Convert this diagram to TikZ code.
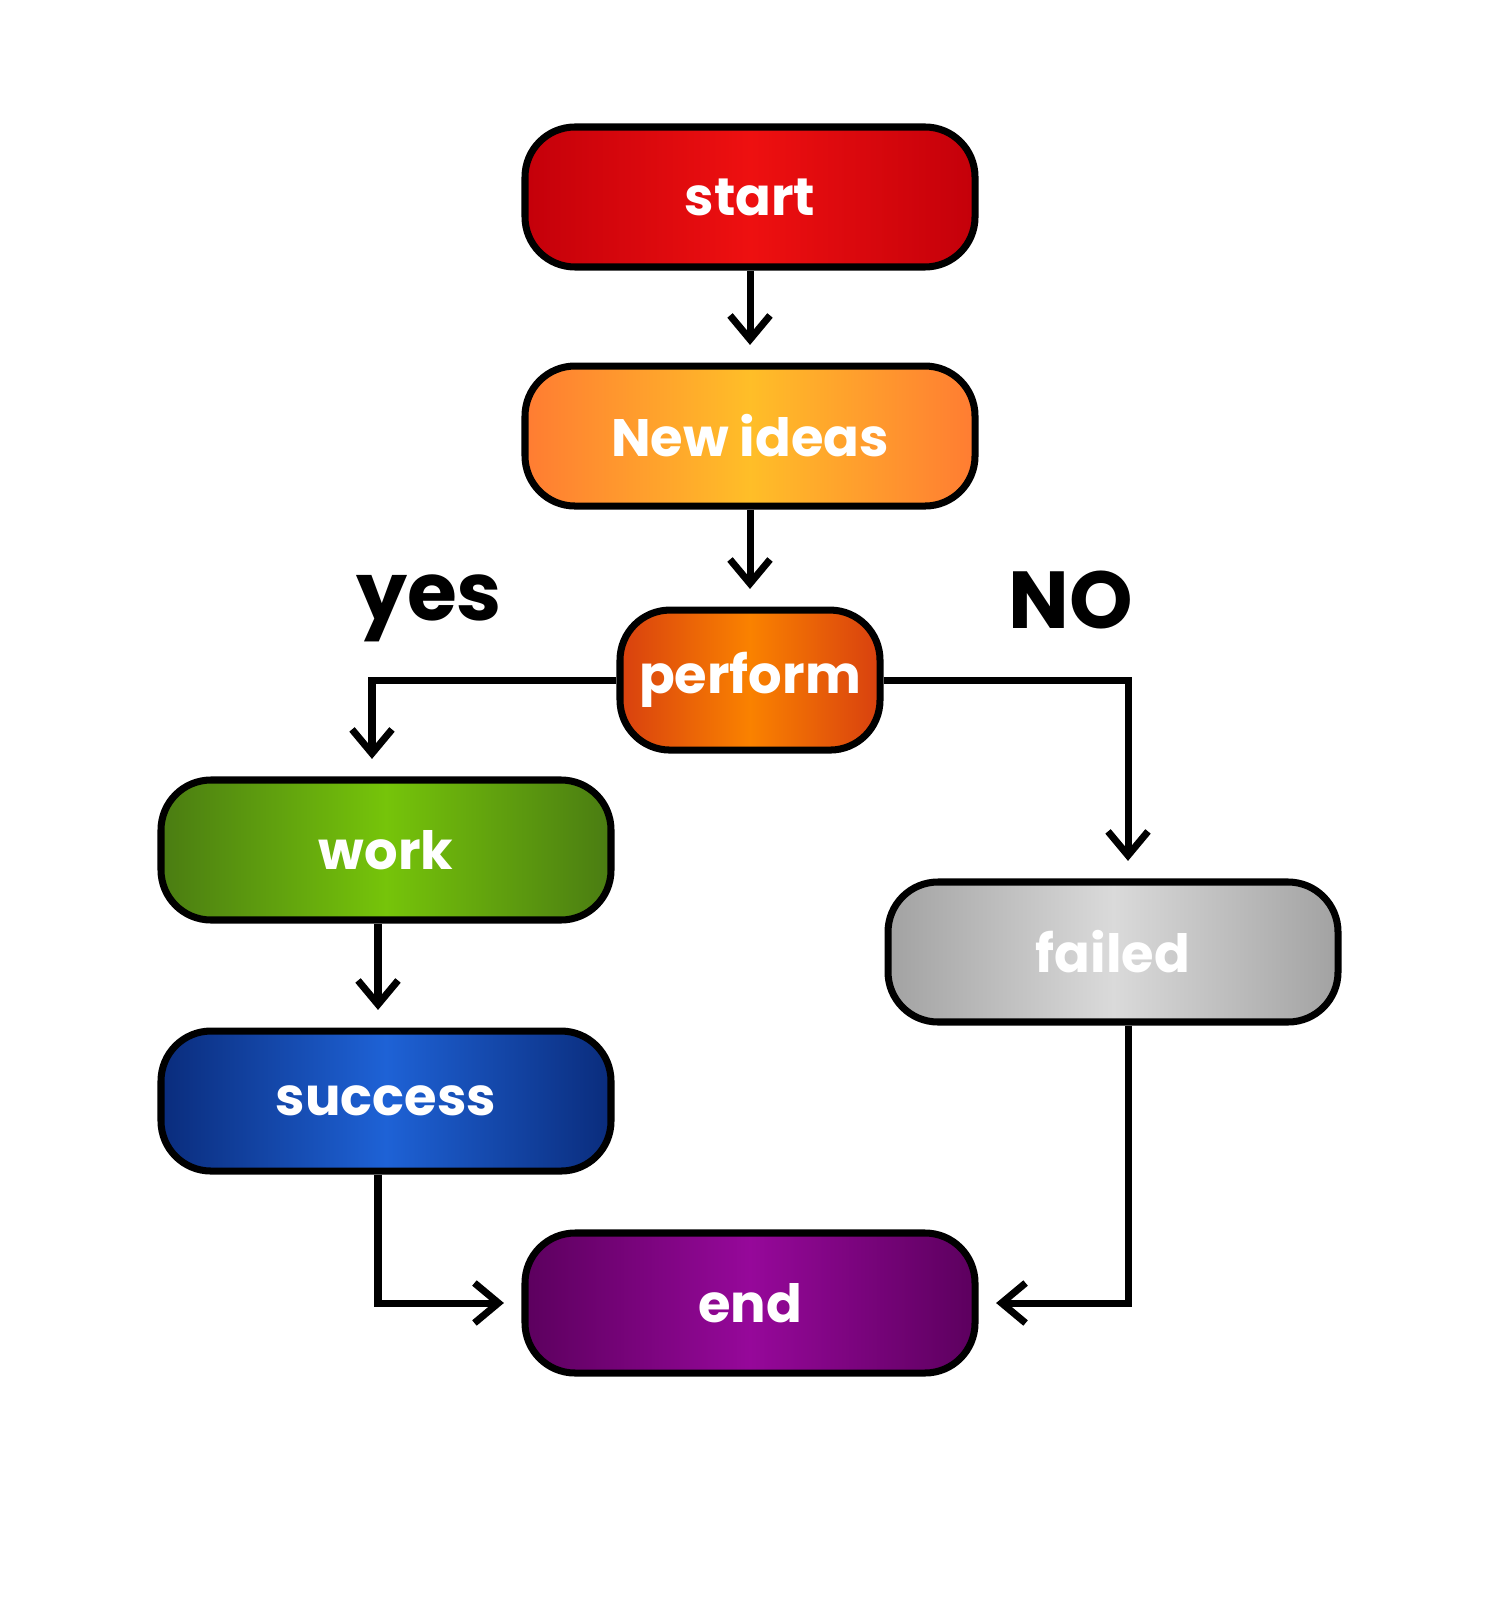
\documentclass[tikz,border=0pt]{standalone}
\usepackage{fontspec}
\setmainfont{Poppins}
\usepackage{tikz}
\usetikzlibrary{positioning}
\usetikzlibrary{arrows.meta}
\usetikzlibrary{calc}

\definecolor{startedge}{HTML}{C4000A}
\definecolor{startmid}{HTML}{EE1010}
\definecolor{ideasedge}{HTML}{FF7C32}
\definecolor{ideasmid}{HTML}{FFBE28}
\definecolor{performedge}{HTML}{D8400F}
\definecolor{performmid}{HTML}{FA8200}
\definecolor{workedge}{HTML}{4A7C12}
\definecolor{workmid}{HTML}{76C40A}
\definecolor{successedge}{HTML}{0A2C7C}
\definecolor{successmid}{HTML}{1E62D6}
\definecolor{failededge}{HTML}{A2A2A2}
\definecolor{failedmid}{HTML}{DADADA}
\definecolor{endedge}{HTML}{5C005E}
\definecolor{endmid}{HTML}{96089A}

\begin{document}
\begin{tikzpicture}[x=1cm,y=1cm]

\tikzstyle{box}=[rectangle,minimum width=4.5cm,minimum height=1.4cm, rounded corners=0.5cm, draw=black, line width=2pt, text=white, font=\fontsize{15}{17}\selectfont\bfseries]
\tikzstyle{smallbox}=[box, minimum width=2.6cm]
\tikzstyle{answer}=[font=\fontsize{23}{26}\selectfont\bfseries, text=black]
\tikzstyle{link}=[line width=2pt, -{Straight Barb[length=2.4mm,width=4mm,line width=2pt]}, shorten >=5pt]

\useasboundingbox (0,0) rectangle (15,-16);

\node[box, left color=startedge, right color=startedge, middle color=startmid] (start) at (7.5,-1.97) {start};
\node[box, below = 0.92cm of start, left color=ideasedge, right color=ideasedge, middle color=ideasmid] (ideas) {New ideas};
\node[smallbox, below = 0.97cm of ideas, left color=performedge, right color=performedge, middle color=performmid] (perform) {perform};
\node[box, left color=workedge, right color=workedge, middle color=workmid] (work) at (3.86,-8.5) {work};
\node[box, below = 1.04cm of work, left color=successedge, right color=successedge, middle color=successmid] (success) {success};
\node[box, left color=failededge, right color=failededge, middle color=failedmid] (failed) at (11.13,-9.52) {failed};
\node[box, left color=endedge, right color=endedge, middle color=endmid] (end) at (7.5,-13.03) {end};

\node[answer] (yes) at (4.29,-6.08) {yes};
\node[answer] (no) at (10.71,-6.0) {NO};

\draw[link](start) -- (ideas);
\draw[link](ideas) -- (perform);
\draw[link](perform.west) -| ([xshift=-0.14cm]work.north);
\draw[link](perform.east) -| ([xshift=0.15cm]failed.north);
\draw[link]([xshift=-0.08cm]work.south) -- ([xshift=-0.08cm]success.north);
\draw[link]([xshift=-0.08cm]success.south) |- (end.west);
\draw[link]([xshift=0.15cm]failed.south) |- (end.east);

\end{tikzpicture}
\end{document}
